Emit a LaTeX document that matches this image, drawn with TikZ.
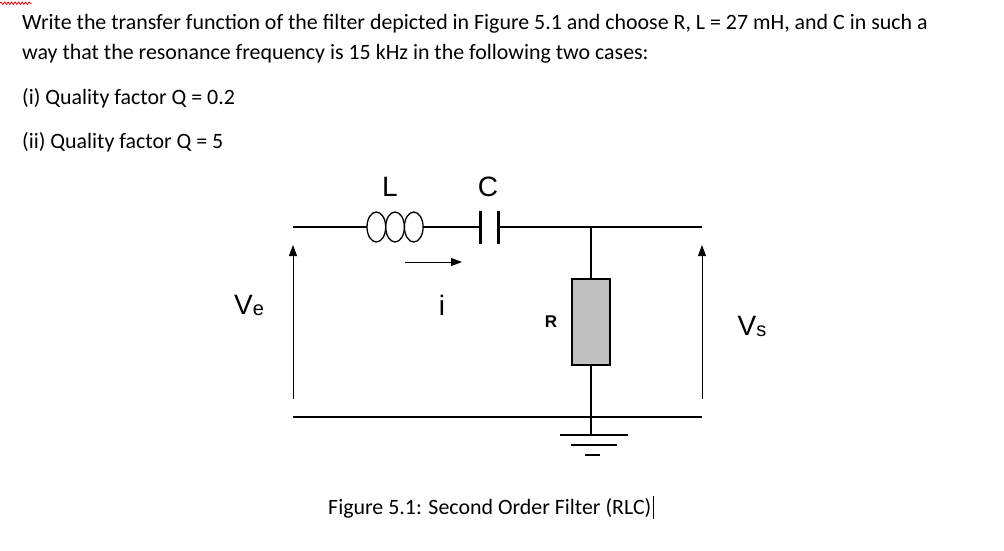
\documentclass[tikz,border=0pt]{standalone}
\usepackage{fontspec}
\setmainfont{Carlito}
\newfontfamily\arialf{Liberation Sans}
\usetikzlibrary{arrows.meta,decorations.pathmorphing}
\begin{document}
\begin{tikzpicture}[x=1pt,y=-1pt,
  txt/.style={anchor=base west,inner sep=0,font=\fontsize{21.9}{24}\selectfont},
  lab/.style={inner sep=0,font=\arialf\fontsize{28}{30}\selectfont},
  wire/.style={line width=1.3pt},
  varrow/.style={line width=1pt,-{Triangle[length=11pt,width=8pt]}}]
\useasboundingbox (0,0) rectangle (1004,550);
\node[txt] (t1) at (22,29) {Write the transfer function of the filter depicted in Figure 5.1 and choose R, L = 27 \tikz[baseline=0pt]\node[inner sep=0,anchor=base west] (mh) {mH};, and C in such a};
\draw[red,line width=0.8pt,decorate,decoration={snake,amplitude=1.2pt,segment length=3.5pt}] ([yshift=-3pt]mh.south west) -- ([yshift=-3pt]mh.south east);
\node[txt] (t2) at (22,59) {way that the resonance frequency is 15 kHz in the following two cases:};
\node[txt] (t3) at (22,104) {(i) Quality factor Q = 0.2};
\node[txt] (t4) at (22,148) {(ii) Quality factor Q = 5};
\node[txt] (cap) at (328,514) {Figure 5.1: Second Order Filter (RLC)};
\draw[line width=1pt] (cap.base east)++(2,5) -- ++(0,-23);
% wires
\coordinate (tl) at (293,227); \coordinate (tr) at (702,227);
\coordinate (bl) at (293,417); \coordinate (br) at (702,417);
\coordinate (j) at (591,227); \coordinate (g) at (591,417);
\coordinate (li) at (367,227); \coordinate (lo) at (423,227);
\coordinate (c1) at (480,227); \coordinate (c2) at (498,227);
\draw[wire] (tl) -- (li);
\foreach \k in {0,1,2} \draw[wire] (367+\k*18.7+9.35,227) ellipse (9.35 and 15);
\draw[wire] (lo) -- (c1) (c2) -- (tr);
\draw[line width=3pt] (480,211) -- (480,244) (498,211) -- (498,244);
\node[draw,line width=1.3pt,fill={rgb,255:red,192;green,192;blue,192},minimum width=38pt,minimum height=86pt,inner sep=0] (R) at (591,322) {};
\draw[wire] (j) -- (R.north) (R.south) -- (g);
\draw[wire] (bl) -- (br);
\draw[wire] (g) -- (591,435) coordinate (gt);
\draw[wire] (560,435) -- (628,435) (571,445) -- (617,445) (585,455) -- (600,455);
\draw[varrow] (293,399) -- (293,245);
\draw[varrow] (702,399) -- (702,245);
\draw[varrow] (405,262) -- (462,262);
\node[lab] (Lb) at (390,187) {L};
\node[lab] (Cb) at (488,187) {C};
\node[lab] (ib) at (442,305) {i};
\node[inner sep=0,font=\arialf\bfseries\fontsize{17}{19}\selectfont] (Rb) at (551,322) {R};
\node[lab] (Ve) at (249,305) {V\raisebox{-1pt}{\fontsize{20}{22}\selectfont e}};
\node[lab] (Vs) at (752,326) {V\raisebox{-1pt}{\fontsize{20}{22}\selectfont s}};
\end{tikzpicture}
\end{document}
